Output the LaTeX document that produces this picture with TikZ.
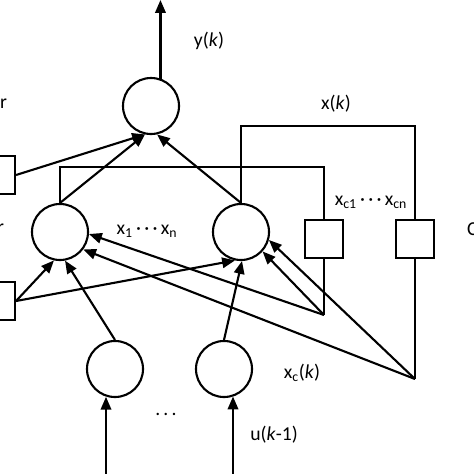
\documentclass[tikz,border=0pt]{standalone}
\usepackage{fontspec}
\setmainfont{Carlito}
\usetikzlibrary{arrows.meta,
	calc,
	positioning}

\begin{document}
\begin{tikzpicture}[x=0.025cm, y=-0.025cm, line width=1.5pt, font=\fontsize{14}{16}\selectfont,
	neuron/.style={circle, draw, inner sep=0pt, minimum size=1.4cm},
	delay/.style={rectangle, draw, inner sep=0pt, minimum size=0.95cm},
	arr/.style={-{Triangle[length=0.32cm, width=0.26cm]}}]
	\useasboundingbox (0, 0) rectangle (474, 474);
	\clip (0, 0) rectangle (474, 474);
	% nodes
	\node[neuron] (out) at (151, 106) {};
	\node[neuron] (h1) at (60, 232) {};
	\node[neuron] (h2) at (241, 232) {};
	\node[neuron] (in1) at (115, 369) {};
	\node[neuron] (in2) at (224, 369) {};
	\node[delay] (s1) at (-4, 175) {};
	\node[delay] (s2) at (-4, 301) {};
	\node[delay] (c1) at (324, 239) {};
	\node[delay] (c2) at (415, 239) {};
	\coordinate (j1) at (324, 315);
	\coordinate (j2) at (415, 379);
	\coordinate (yout) at (160, 0);
	\coordinate (u1) at (106, 474);
	\coordinate (u2) at (233, 474);
	% labels
	\node (ylab) at (209, 41) {y(\textit{k})};
	\node (xlab) at (336, 104) {x(\textit{k})};
	\node (hlab) at (147, 231) {x\textsubscript{1}\,·\,·\,·\,x\textsubscript{n}};
	\node (clab) at (371, 202) {x\textsubscript{c1}\,·\,·\,·\,x\textsubscript{cn}};
	\node (xclab) at (302, 373) {x\textsubscript{c}(\textit{k})};
	\node (ulab) at (274, 435) {u(\textit{k}-1)};
	\node (dots) at (166, 414) {.\,.\,.};
	\node[anchor=east, inner sep=0pt] (olay) at (8, 104) {r};
	\node[anchor=east, inner sep=0pt] (hlay) at (5, 229) {r};
	\node[anchor=west, inner sep=0pt] (clay) at (466, 229) {C};
	% connections
	\draw[arr] (out.71) -- (out.71 |- yout);
	\draw[arr] (s1.east) -- (out.-102);
	\draw[arr] (h1.north) -- (out.-102);
	\draw[arr] (h2.north) -- (out.-78);
	\draw (h1.north) -- ++(0, -36) -| (c1.north);
	\draw (h2.north) -- ++(0, -77) -| (c2.north);
	\draw (c1.south) -- (j1);
	\draw (c2.south) -- (j2);
	\draw[arr] (j1) -- (h2.-42);
	\draw[arr] (j1) -- (h1.-4);
	\draw[arr] (j2) -- (h2.-16);
	\draw[arr] (j2) -- (h1.-37);
	\draw[arr] (s2.east) -- (h1.-102);
	\draw[arr] (s2.east) -- (h2.-102);
	\draw[arr] (in1.north) -- (h1.-80);
	\draw[arr] (in2.north) -- (h2.-88);
	\draw[arr] (u1) -- (u1 |- in1.-107);
	\draw[arr] (u2) -- (u2 |- in2.-71);
\end{tikzpicture}
\end{document}
